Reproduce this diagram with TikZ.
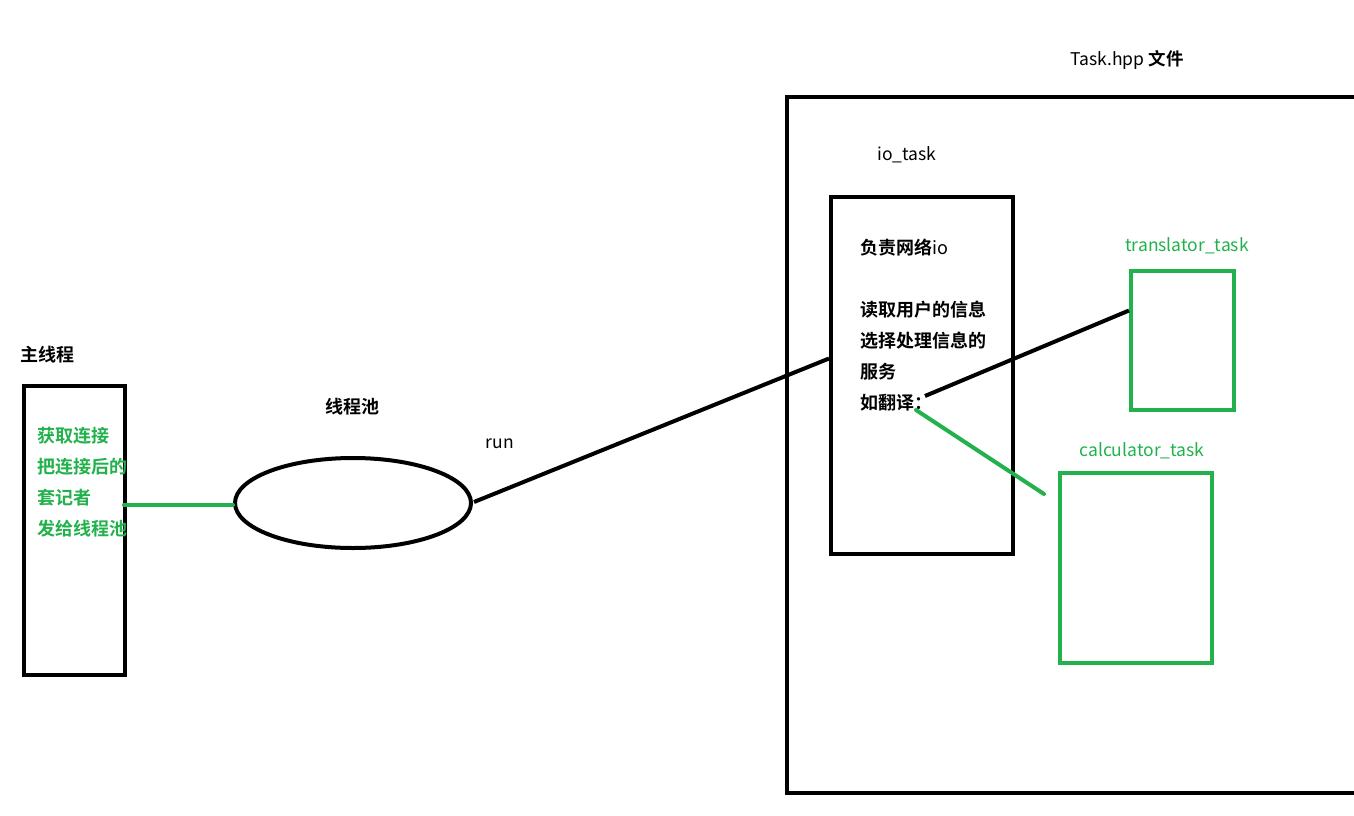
\documentclass[tikz,border=0pt]{standalone}
\usepackage{fontspec}
\setmainfont{Noto Sans CJK SC}
\newfontfamily\cjkb{Noto Sans CJK SC Bold}
\definecolor{pgreen}{HTML}{22B14C}
\usetikzlibrary{shapes.geometric}
\begin{document}
\begin{tikzpicture}[x=1pt,y=-1pt,
  gbox/.style={draw=pgreen,line width=4pt},
  lbl/.style={font=\fontsize{17.5}{17.5}\selectfont,inner sep=0pt},
  blbl/.style={font=\cjkb\fontsize{18}{18}\selectfont,inner sep=0pt},
  bline/.style={draw=black,line width=4pt},
  gline/.style={draw=pgreen,line width=4pt,line cap=round}]
\useasboundingbox[fill=white] (0,0) rectangle (1354,816);
% outer file box (right side beyond the picture)
\draw[line width=4pt] (1360,97) -- (787,97) -- (787,793) -- (1360,793);
\node[lbl,anchor=center] (file) at (1127,60) {Task.hpp {\cjkb 文件}};
% main thread
\node[blbl,anchor=west] (mainlbl) at (20,355) {主线程};
\node[draw,line width=4pt,minimum width=101pt,minimum height=289pt,inner sep=0pt] (main) at (74.5,530.5) {};
\node[blbl,text=pgreen,anchor=north west,align=left,font=\cjkb\fontsize{18}{31}\selectfont] (maintxt) at (37,427) {获取连接\\把连接后的\\套记者\\发给线程池};
% thread pool
\node[draw,line width=4pt,ellipse,minimum width=236pt,minimum height=90pt,inner sep=0pt] (pool) at (353,503) {};
\node[blbl] (poollbl) at (352,407) {线程池};
\node[lbl] (run) at (500,444) {run};
% io task
\node[lbl] (iolbl) at (907,155) {io\_task};
\node[draw,line width=4pt,minimum width=182pt,minimum height=357pt,inner sep=0pt] (io) at (922,375.5) {};
\node[blbl,anchor=west] (io1) at (860,248) {负责网络{\normalfont io}};
\node[blbl,anchor=north west,align=left,font=\cjkb\fontsize{18}{31}\selectfont] (io2) at (860,301) {读取用户的信息\\选择处理信息的\\服务\\如翻译：};
\coordinate (colon) at (925,396);
\coordinate (colon2) at (916,410);
% translator
\node[lbl,text=pgreen] (trlbl) at (1187,246) {translator\_task};
\node[gbox,minimum width=103pt,minimum height=139pt,inner sep=0pt] (tr) at (1182.5,340.5) {};
% calculator
\node[lbl,text=pgreen] (calbl) at (1142,451) {calculator\_task};
\node[gbox,minimum width=152pt,minimum height=190pt,inner sep=0pt] (ca) at (1136,568) {};
\coordinate (caend) at (1044,494);
% connectors
\draw[gline] (main.east) ++(-3,-26) coordinate (gs) -- (pool.west |- gs);
\draw[bline] (pool.east) ++(1,-1) coordinate (ps) -- ([yshift=17pt]io.west);
\draw[bline] (colon) -- ([yshift=30pt]tr.west);
\draw[gline] (colon2) -- (caend);
\end{tikzpicture}
\end{document}
